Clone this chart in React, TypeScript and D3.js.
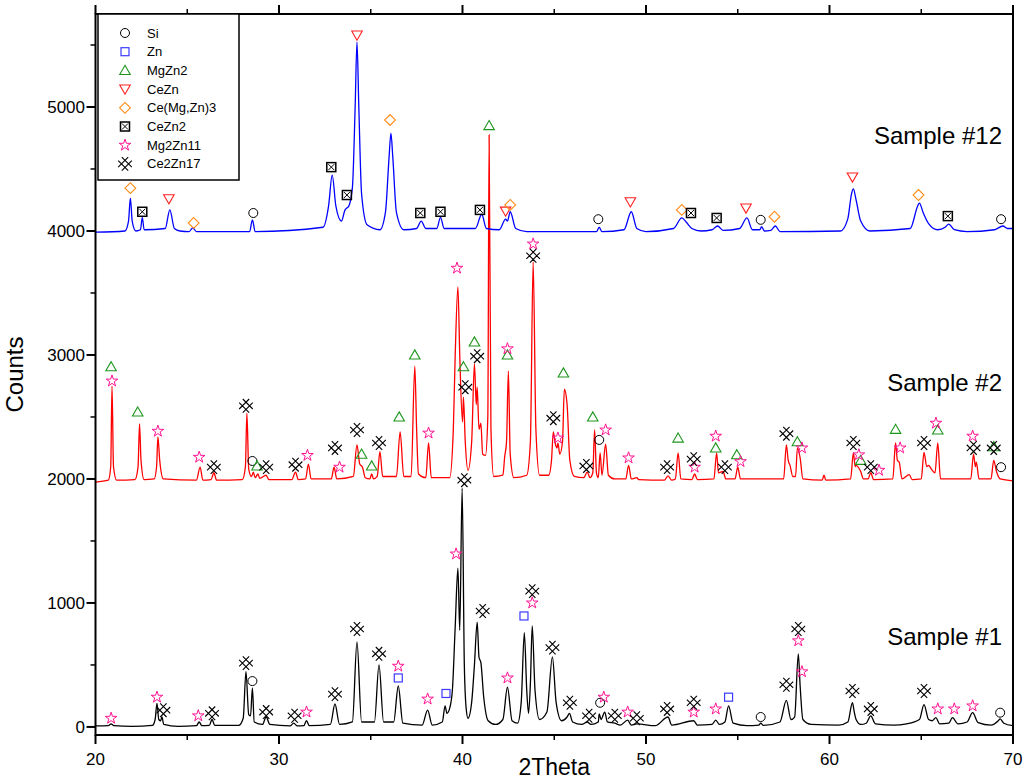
import React from 'react';
import * as d3 from 'd3';

// XRD patterns, [2theta, counts] (offsets already included)
const sample1: [number, number][] = [
  [20, 8], [20.7, 10], [20.85, 25], [21.0, 10], [22.0, 5], [23.1, 12], [23.25, 60], [23.35, 190], [23.45, 60],
  [23.55, 50], [23.62, 80], [23.72, 20], [24.5, 5], [25.5, 10], [25.65, 40], [25.8, 10], [26.2, 12], [26.35, 60],
  [26.5, 12], [27.8, 12], [28.05, 70], [28.2, 445], [28.35, 100], [28.45, 90], [28.55, 315], [28.65, 40],
  [29.1, 20], [29.3, 80], [29.5, 20], [30.6, 8], [30.8, 30], [31.0, 8], [31.35, 10], [31.5, 50], [31.65, 10],
  [32.8, 20], [33.05, 185], [33.3, 20], [34.0, 40], [34.25, 685], [34.5, 40], [35.2, 40], [35.45, 500],
  [35.7, 40], [36.25, 40], [36.5, 330], [36.75, 30], [37.8, 15], [38.1, 135], [38.35, 15], [38.9, 40],
  [39.05, 170], [39.15, 110], [39.3, 150], [39.45, 300], [39.6, 800], [39.75, 1280], [39.85, 780],
  [39.98, 1925], [40.1, 500], [40.2, 150], [40.3, 70], [40.5, 200], [40.65, 500], [40.8, 845], [40.9, 560],
  [41.0, 520], [41.15, 250], [41.4, 50], [41.8, 20], [42.2, 60], [42.45, 320], [42.7, 50], [43.0, 30],
  [43.2, 200], [43.37, 760], [43.5, 300], [43.6, 110], [43.7, 350], [43.8, 815], [43.95, 300], [44.2, 60],
  [44.6, 120], [44.9, 565], [45.1, 200], [45.4, 50], [45.7, 80], [45.83, 110], [46.0, 40], [46.5, 20],
  [46.8, 40], [47.0, 20], [47.4, 40], [47.45, 105], [47.55, 60], [47.75, 120], [47.9, 40], [48.3, 30],
  [48.6, 15], [49.0, 55], [49.2, 15], [49.5, 25], [50.5, 10], [51.2, 80], [51.4, 15], [52.6, 50], [52.8, 15],
  [53.6, 20], [53.8, 55], [54.0, 20], [54.3, 40], [54.5, 170], [54.75, 30], [55.5, 10], [56.15, 15],
  [56.25, 30], [56.4, 12], [57.3, 40], [57.65, 215], [57.9, 60], [58.1, 80], [58.3, 590], [58.4, 330],
  [58.55, 60], [59.0, 20], [60.5, 15], [61.0, 40], [61.25, 195], [61.35, 120], [61.45, 60], [61.7, 20],
  [62.0, 30], [62.25, 90], [62.5, 25], [63.5, 15], [64.2, 25], [64.9, 60], [65.15, 180], [65.4, 60],
  [65.6, 50], [65.8, 75], [66.0, 25], [66.5, 30], [66.7, 75], [67.0, 25], [67.5, 40], [67.8, 115], [68.1, 35],
  [68.8, 15], [69.2, 50], [69.3, 65], [69.5, 30], [70, 10],
];

const sample2: [number, number][] = [
  [20, 1975], [20.7, 1990], [20.83, 2100], [20.9, 2750], [20.98, 2100], [21.15, 1990], [22.15, 1995],
  [22.32, 2100], [22.4, 2445], [22.48, 2150], [22.65, 1995], [23.2, 2000], [23.33, 2100], [23.4, 2340],
  [23.5, 2150], [23.7, 2000], [25.5, 1990], [25.7, 2095], [25.85, 1990], [26.3, 1995], [26.45, 2050],
  [26.6, 1990], [28.0, 1995], [28.17, 2100], [28.25, 2530], [28.35, 2080], [28.5, 2020], [28.6, 2055],
  [28.7, 2010], [28.85, 2040], [28.95, 2005], [29.3, 2030], [29.45, 1995], [30.7, 1995], [30.9, 2055],
  [31.05, 1995], [31.45, 2000], [31.6, 2120], [31.75, 2000], [32.85, 2000], [33.0, 2095], [33.15, 2000],
  [34.05, 2020], [34.25, 2275], [34.4, 2120], [34.55, 2095], [34.7, 2010], [34.95, 2000], [35.05, 2040],
  [35.15, 2000], [35.35, 2020], [35.5, 2220], [35.65, 2020], [36.4, 2020], [36.6, 2380], [36.8, 2020],
  [37.2, 2020], [37.4, 2910], [37.5, 2400], [37.6, 2040], [38.0, 2010], [38.15, 2290], [38.3, 2010],
  [39.3, 2010], [39.5, 2400], [39.6, 2985], [39.75, 3550], [39.85, 3000], [40.0, 2460], [40.05, 2660],
  [40.15, 2300], [40.3, 2070], [40.5, 2300], [40.65, 2930], [40.75, 2600], [40.8, 2740], [40.9, 2400],
  [41.0, 2450], [41.1, 2200], [41.25, 2190], [41.38, 2500], [41.45, 4775], [41.55, 2400], [41.7, 2020],
  [42.2, 2030], [42.3, 2180], [42.4, 2300], [42.5, 2870], [42.6, 2200], [42.8, 2010], [43.5, 2030],
  [43.7, 2300], [43.85, 3750], [44.0, 2400], [44.2, 2030], [44.7, 2030], [44.85, 2150], [44.95, 2380],
  [45.05, 2290], [45.15, 2250], [45.2, 2290], [45.3, 2200], [45.45, 2300], [45.55, 2725], [45.7, 2600],
  [45.85, 2150], [46.1, 2020], [46.6, 2010], [46.8, 2055], [46.95, 2010], [47.1, 2050], [47.2, 2395],
  [47.3, 2050], [47.4, 2010], [47.5, 2210], [47.6, 2030], [47.8, 2280], [47.95, 2030], [48.3, 2000],
  [48.9, 2000], [49.05, 2110], [49.2, 2000], [49.5, 2010], [49.6, 1995], [51.0, 1990], [51.2, 2025],
  [51.4, 1990], [51.6, 2000], [51.75, 2210], [51.9, 2000], [52.5, 1995], [52.65, 2040], [52.8, 1995],
  [53.7, 2000], [53.85, 2210], [53.95, 2050], [54.2, 2060], [54.35, 2000], [54.85, 2000], [55.0, 2095],
  [55.15, 2000], [57.5, 2000], [57.65, 2275], [57.75, 2150], [57.85, 2110], [58.0, 2020], [58.15, 2020],
  [58.25, 2250], [58.4, 2170], [58.55, 2000], [59.6, 1990], [59.7, 2030], [59.8, 1990], [61.15, 2000],
  [61.3, 2210], [61.4, 2100], [61.45, 2110], [61.7, 2060], [61.85, 2000], [62.1, 2000], [62.25, 2050],
  [62.4, 1995], [63.45, 2000], [63.6, 2290], [63.7, 2150], [63.8, 2135], [63.95, 2000], [64.35, 2035],
  [64.5, 1995], [65.0, 2000], [65.15, 2215], [65.3, 2100], [65.4, 2110], [65.55, 2080], [65.75, 2050],
  [65.9, 2290], [66.05, 2000], [67.7, 2000], [67.85, 2200], [67.95, 2100], [68.0, 2135], [68.15, 2000],
  [68.8, 2000], [68.95, 2150], [69.1, 2060], [69.3, 2000], [70, 1985],
];

const sample12: [number, number][] = [
  [20, 3990], [21.6, 4000], [21.8, 4080], [21.9, 4265], [22.0, 4080], [22.2, 4000], [22.45, 4010],
  [22.55, 4110], [22.65, 4010], [23.8, 4020], [24.05, 4170], [24.3, 4020], [24.6, 4000], [25.1, 3995],
  [25.3, 4025], [25.5, 3995], [28.4, 3995], [28.55, 4090], [28.7, 3995], [32.4, 4030], [32.7, 4200],
  [32.9, 4450], [33.1, 4200], [33.4, 4080], [33.6, 4170], [33.7, 4185], [33.8, 4200], [34.0, 4350],
  [34.15, 5000], [34.25, 5525], [34.35, 5000], [34.5, 4300], [34.8, 4050], [35.5, 4010], [35.8, 4150],
  [36.0, 4600], [36.1, 4790], [36.2, 4600], [36.4, 4150], [36.8, 4010], [37.5, 4020], [37.75, 4080],
  [38.0, 4020], [38.6, 4020], [38.8, 4110], [39.0, 4020], [40.7, 4020], [41.05, 4135], [41.3, 4020],
  [42.0, 4010], [42.35, 4095], [42.45, 4080], [42.6, 4155], [42.9, 4020], [43.5, 3995], [47.3, 3995],
  [47.45, 4030], [47.6, 3995], [48.8, 4010], [49.2, 4155], [49.5, 4020], [50.0, 3995], [51.5, 4020],
  [51.95, 4105], [52.2, 4070], [52.5, 4020], [53.0, 4000], [53.6, 4010], [53.9, 4040], [54.2, 4005],
  [55.1, 4020], [55.5, 4105], [55.8, 4010], [56.2, 4010], [56.3, 4035], [56.45, 4000], [56.8, 4005],
  [57.05, 4040], [57.3, 3995], [60.6, 4000], [61.0, 4100], [61.2, 4300], [61.3, 4340], [61.45, 4250],
  [61.7, 4080], [62.2, 4000], [64.4, 4020], [64.8, 4200], [64.9, 4225], [65.1, 4150], [65.4, 4060],
  [65.9, 4010], [66.3, 4030], [66.5, 4055], [66.8, 4010], [67.5, 3995], [69.0, 4010], [69.45, 4040],
  [69.7, 4020], [70, 4020],
];

// phase markers, [2theta, counts]
const siMarks: [number, number][] = [
  [28.55, 370], [47.5, 195], [56.25, 80], [69.3, 115], [28.55, 2145], [47.45, 2315], [69.35, 2095],
  [28.6, 4145], [47.4, 4095], [56.25, 4090], [69.35, 4095],
];
const znMarks: [number, number][] = [[36.5, 395], [39.1, 270], [43.35, 895], [54.5, 240], [70.2, 150]];
const mgZn2Marks: [number, number][] = [
  [20.85, 2905], [22.3, 2540], [28.8, 2105], [34.5, 2200], [35.05, 2105], [36.55, 2500], [37.4, 3000],
  [40.05, 2905], [40.65, 3105], [41.45, 4850], [42.45, 3000], [45.5, 2855], [47.1, 2500], [51.75, 2330],
  [53.8, 2250], [54.95, 2195], [58.25, 2300], [61.7, 2150], [63.6, 2400], [65.9, 2395], [68.95, 2260],
];
const ceZnMarks: [number, number][] = [[24.0, 4260], [34.25, 5580], [42.35, 4160], [49.15, 4235], [55.45, 4185], [61.25, 4435]];
const ceMgZn3Marks: [number, number][] = [
  [21.9, 4345], [25.35, 4065], [36.05, 4895], [42.6, 4210], [51.95, 4170], [57.0, 4115], [64.85, 4290],
];
const ceZn2Marks: [number, number][] = [
  [22.55, 4155], [32.85, 4515], [33.7, 4290], [37.7, 4145], [38.8, 4155], [40.95, 4170], [52.45, 4145],
  [53.85, 4105], [66.45, 4120],
];
const mg2Zn11Marks: [number, number][] = [
  [20.85, 70], [23.35, 240], [25.6, 90], [31.5, 120], [36.5, 490], [38.1, 225], [39.65, 1395], [42.45, 395],
  [43.8, 1000], [47.7, 240], [49.0, 120], [52.6, 120], [53.8, 145], [58.3, 695], [58.5, 445], [65.9, 145],
  [66.8, 145], [67.8, 170],
  [20.9, 2790], [23.4, 2385], [25.65, 2175], [31.55, 2190], [33.3, 2095], [38.15, 2370], [39.7, 3700],
  [42.45, 3050], [43.85, 3895], [45.2, 2330], [47.8, 2395], [49.05, 2170], [52.65, 2095], [53.8, 2345],
  [55.15, 2140], [58.5, 2250], [61.6, 2195], [62.7, 2070], [63.85, 2250], [65.8, 2450], [67.8, 2345],
];
const ce2Zn17Marks: [number, number][] = [
  [23.7, 135], [26.35, 110], [28.2, 515], [29.3, 120], [30.85, 90], [33.05, 265], [34.25, 790], [35.45, 590],
  [40.1, 1990], [41.1, 935], [43.8, 1095], [44.9, 640], [45.85, 195], [46.9, 90], [48.3, 90], [49.5, 70],
  [51.15, 145], [52.6, 195], [57.65, 340], [58.3, 790], [61.25, 290], [62.25, 145], [65.15, 290],
  [26.45, 2095], [28.2, 2590], [29.3, 2095], [30.9, 2115], [33.05, 2250], [34.25, 2395], [35.45, 2290],
  [40.15, 2740], [40.8, 2990], [43.85, 3800], [44.95, 2490], [46.75, 2105], [51.15, 2095], [52.6, 2160],
  [54.3, 2095], [57.65, 2365], [61.3, 2290], [62.25, 2095], [65.15, 2290], [67.85, 2250], [68.95, 2250],
];

const xTicks = [20, 30, 40, 50, 60, 70];
const yTicks = [0, 1000, 2000, 3000, 4000, 5000];
const phaseNames = ['Si', 'Zn', 'MgZn2', 'CeZn', 'Ce(Mg,Zn)3', 'CeZn2', 'Mg2Zn11', 'Ce2Zn17'];
const sampleNames = ['Sample #12', 'Sample #2', 'Sample #1'];

type Kind = 'circle' | 'square' | 'tri' | 'tridown' | 'diamond' | 'boxx' | 'star' | 'hatch';
const kinds: Kind[] = ['circle', 'square', 'tri', 'tridown', 'diamond', 'boxx', 'star', 'hatch'];
const phaseMarks = [siMarks, znMarks, mgZn2Marks, ceZnMarks, ceMgZn3Marks, ceZn2Marks, mg2Zn11Marks, ce2Zn17Marks];

const triPath = d3.symbol(d3.symbolTriangle, 48)()!;
const diaPath = d3.symbol(d3.symbolSquare, 58)()!;
const starPath = d3.symbol(d3.symbolStar, 42)()!;
// rotated "#" glyph for Ce2Zn17
const hatchPath = 'M-6.8,-3.2L3.2,6.8M-3.2,-6.8L6.8,3.2M-3.2,6.8L6.8,-3.2M-6.8,3.2L3.2,-6.8';

function Marker({ kind, x, y }: { kind: Kind; x: number; y: number }) {
  const t = `translate(${x},${y})`;
  switch (kind) {
    case 'circle':
      return <circle cx={x} cy={y} r={4.5} fill="none" stroke="#000" strokeWidth={1} />;
    case 'square':
      return <rect x={x - 4} y={y - 4} width={8} height={8} fill="none" stroke="#3b3bff" strokeWidth={1.2} />;
    case 'tri':
      return <path d={triPath} transform={`${t} translate(0,1)`} fill="none" stroke="#1e961e" strokeWidth={1.1} />;
    case 'tridown':
      return <path d={triPath} transform={`${t} rotate(180) translate(0,1)`} fill="none" stroke="#ff2020" strokeWidth={1.1} />;
    case 'diamond':
      return <path d={diaPath} transform={`${t} rotate(45)`} fill="none" stroke="#ff8a14" strokeWidth={1.1} />;
    case 'boxx':
      return (
        <g transform={t} stroke="#000" fill="none">
          <rect x={-4.5} y={-4.5} width={9} height={9} strokeWidth={1.5} />
          <path d="M-3,-3L3,3M-3,3L3,-3" strokeWidth={1} />
        </g>
      );
    case 'star':
      return <path d={starPath} transform={t} fill="none" stroke="#ff1493" strokeWidth={1} />;
    case 'hatch':
      return <path d={hatchPath} transform={t} fill="none" stroke="#000" strokeWidth={1.1} />;
  }
}

export default function App() {
  const width = 1024;
  const height = 781;
  const plotLeft = 95.5;
  const plotRight = 1013;
  const plotTop = 14;
  const plotBottom = 735;

  const x = d3.scaleLinear([20, 70], [plotLeft, plotRight]);
  const y = d3.scaleLinear([-65, 5750], [plotBottom, plotTop]);

  const line = d3
    .line<[number, number]>()
    .x((d) => x(d[0]))
    .y((d) => y(d[1]))
    .curve(d3.curveMonotoneX);

  const minorX = x.ticks(10).filter((v) => !xTicks.includes(v));
  const minorY = d3.range(500, 5750, 1000);

  const font = "'Liberation Sans', Arial, sans-serif";
  const labelPos: [number, number][] = [[69.4, 4700], [69.4, 2710], [69.4, 660]];

  return (
    <svg width={width} height={height} style={{ position: 'absolute', left: 0, top: 0, background: '#fff' }} fontFamily={font}>
      <defs>
        <clipPath id="plot">
          <rect x={plotLeft} y={plotTop} width={plotRight - plotLeft} height={plotBottom - plotTop} />
        </clipPath>
      </defs>

      <g clipPath="url(#plot)">
        <path d={line(sample1)!} fill="none" stroke="#000" strokeWidth={1.3} />
        <path d={line(sample2)!} fill="none" stroke="#ff0000" strokeWidth={1.3} />
        <path d={line(sample12)!} fill="none" stroke="#0000ff" strokeWidth={1.3} />
        {phaseMarks.map((marks, i) =>
          marks.map((d, j) => <Marker key={`${i}-${j}`} kind={kinds[i]} x={x(d[0])} y={y(d[1])} />)
        )}
      </g>

      {/* sample labels */}
      {sampleNames.map((s, i) => (
        <text key={s} x={x(labelPos[i][0])} y={y(labelPos[i][1])} fontSize={24} textAnchor="end">
          {s}
        </text>
      ))}

      {/* frame */}
      <rect x={plotLeft} y={plotTop} width={plotRight - plotLeft} height={plotBottom - plotTop} fill="none" stroke="#000" strokeWidth={2} />

      {/* x ticks bottom + top */}
      {xTicks.map((v) => (
        <g key={v}>
          <line x1={x(v)} x2={x(v)} y1={plotBottom} y2={plotBottom + 9} stroke="#000" strokeWidth={2} />
          <line x1={x(v)} x2={x(v)} y1={plotTop} y2={plotTop - 9} stroke="#000" strokeWidth={2} />
          <text x={x(v)} y={765} fontSize={17} textAnchor="middle">
            {v}
          </text>
        </g>
      ))}
      {minorX.map((v) => (
        <g key={v}>
          <line x1={x(v)} x2={x(v)} y1={plotBottom} y2={plotBottom + 5} stroke="#000" strokeWidth={1.5} />
          <line x1={x(v)} x2={x(v)} y1={plotTop} y2={plotTop - 5} stroke="#000" strokeWidth={1.5} />
        </g>
      ))}

      {/* y ticks */}
      {yTicks.map((v) => (
        <g key={v}>
          <line x1={plotLeft} x2={plotLeft - 9} y1={y(v)} y2={y(v)} stroke="#000" strokeWidth={2} />
          <text x={85} y={y(v)} dy="0.35em" fontSize={17} textAnchor="end">
            {v}
          </text>
        </g>
      ))}
      {minorY.map((v) => (
        <line key={v} x1={plotLeft} x2={plotLeft - 5} y1={y(v)} y2={y(v)} stroke="#000" strokeWidth={1.5} />
      ))}

      <text x={(plotLeft + plotRight) / 2} y={775} fontSize={23} textAnchor="middle">
        2Theta
      </text>
      <text transform={`translate(23,${(plotTop + plotBottom) / 2}) rotate(-90)`} fontSize={24} textAnchor="middle">
        Counts
      </text>

      {/* legend */}
      <g>
        <rect x={98} y={plotTop} width={141} height={166} fill="#fff" stroke="#000" strokeWidth={1.5} />
        {phaseNames.map((n, i) => {
          const ly = 33 + i * 18.7;
          return (
            <g key={n}>
              <Marker kind={kinds[i]} x={125} y={ly} />
              <text x={147} y={ly} dy="0.35em" fontSize={13}>
                {n}
              </text>
            </g>
          );
        })}
      </g>
    </svg>
  );
}
